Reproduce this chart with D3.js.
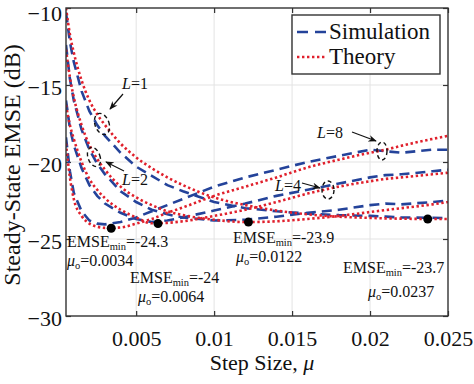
<!DOCTYPE html>
<html lang="en">
<head>
  <meta charset="UTF-8">
  <title>Steady-State EMSE vs Step Size</title>
  <script src="https://cdn.jsdelivr.net/npm/d3@7"></script>
  <style>
    body { margin: 0; background: #fff; }
    text { font-family: "Liberation Serif", "Times New Roman", serif; fill: #111; }
  </style>
</head>
<body>
  <script>
    // step sizes shared by all curves
    const mu = [0.0005, 0.00075, 0.001, 0.0015, 0.002, 0.0025, 0.003, 0.004, 0.005, 0.006, 0.007,
      0.008, 0.01, 0.012, 0.014, 0.016, 0.018, 0.02, 0.021, 0.022, 0.024, 0.025];

    const theoryL1 = [-10, -11.7, -12.9, -14.7, -16.0, -16.9, -17.6, -18.8, -19.7, -20.4, -21.0,
      -21.5, -22.3, -22.8, -23.15, -23.4, -23.55, -23.63, -23.66, -23.68, -23.7, -23.7];
    const simL1 = [-10.3, -12.2, -13.5, -15.4, -16.7, -17.6, -18.3, -19.4, -20.3, -20.9, -21.5,
      -21.9, -22.6, -23.0, -23.2, -23.35, -23.45, -23.5, -23.55, -23.6, -23.62, -23.65];

    const theoryL2 = [-12.7, -14.5, -15.8, -17.6, -18.9, -19.8, -20.5, -21.6, -22.3, -22.8, -23.2,
      -23.45, -23.75, -23.9, -23.85, -23.7, -23.5, -23.25, -23.12, -23.0, -22.75, -22.6];
    const simL2 = [-12.4, -14.6, -16.0, -17.9, -19.2, -20.1, -20.8, -21.9, -22.6, -23.1, -23.4,
      -23.6, -23.8, -23.75, -23.55, -23.3, -23.1, -22.8, -22.7, -22.75, -22.6, -22.5];

    const theoryL4 = [-16.3, -17.6, -18.5, -20.0, -21.1, -21.8, -22.35, -23.1, -23.6, -23.98, -23.95,
      -23.85, -23.5, -23.1, -22.6, -22.05, -21.6, -21.25, -21.1, -21.0, -20.8, -20.7];
    const simL4 = [-16.0, -17.8, -18.9, -20.4, -21.5, -22.2, -22.7, -23.3, -23.7, -23.9, -23.8,
      -23.6, -23.15, -22.7, -22.2, -21.8, -21.4, -21.0, -20.85, -20.8, -20.6, -20.5];

    const theoryL8 = [-18.8, -21.0, -22.4, -23.5, -24.0, -24.2, -24.28, -24.25, -24.0, -23.7, -23.3,
      -22.95, -22.2, -21.6, -21.0, -20.35, -19.85, -19.4, -19.2, -18.95, -18.5, -18.3];
    const simL8 = [-18.4, -20.6, -22.0, -23.2, -23.8, -24.0, -24.05, -23.9, -23.6, -23.2, -22.8,
      -22.4, -21.6, -21.0, -20.5, -20.0, -19.6, -19.2, -19.3, -19.4, -19.2, -19.2];

    // optimum points
    const optMu = [0.0034, 0.0064, 0.0122, 0.0237];
    const optEmse = [-24.3, -24, -23.9, -23.7];
    const optLabels = ['-24.3', '-24', '-23.9', '-23.7'];
    const optMuLabels = ['0.0034', '0.0064', '0.0122', '0.0237'];

    const xTicks = [0.005, 0.01, 0.015, 0.02, 0.025];
    const yTicks = [-10, -15, -20, -25, -30];

    const w = 474;
    const h = 384;
    const mLeft = 66, mRight = 448, mTop = 8, mBottom = 316;

    const xScale = d3.scaleLinear().domain([0.0005, 0.025]).range([mLeft, mRight]);
    const yScale = d3.scaleLinear().domain([-30, -10]).range([mBottom, mTop]);

    const svg = d3.select('body').append('svg')
      .attr('width', w)
      .attr('height', h);

    const defs = svg.append('defs');
    defs.append('clipPath').attr('id', 'plot')
      .append('rect')
      .attr('x', mLeft).attr('y', mTop)
      .attr('width', mRight - mLeft).attr('height', mBottom - mTop);

    const marker = defs.append('marker')
      .attr('id', 'arrow')
      .attr('viewBox', '0 0 10 10')
      .attr('refX', 9).attr('refY', 5)
      .attr('markerWidth', 7).attr('markerHeight', 7)
      .attr('orient', 'auto');
    marker.append('path').attr('d', 'M0,1 L10,5 L0,9 L3,5 Z').attr('fill', '#111');

    // grid
    svg.append('g').selectAll('line')
      .data(xTicks.slice(0, -1))
      .enter().append('line')
      .attr('x1', d => xScale(d)).attr('x2', d => xScale(d))
      .attr('y1', mTop).attr('y2', mBottom)
      .attr('stroke', '#e3e3e3').attr('stroke-width', 1);
    svg.append('g').selectAll('line')
      .data(yTicks.slice(1, -1))
      .enter().append('line')
      .attr('x1', mLeft).attr('x2', mRight)
      .attr('y1', d => yScale(d)).attr('y2', d => yScale(d))
      .attr('stroke', '#e3e3e3').attr('stroke-width', 1);

    // axes with inner ticks
    const xAxis = svg.append('g')
      .attr('transform', `translate(0,${mBottom})`)
      .call(d3.axisBottom(xScale).tickValues(xTicks).tickSize(-5)
        .tickFormat(d3.format('')));
    const xTop = svg.append('g')
      .attr('transform', `translate(0,${mTop})`)
      .call(d3.axisTop(xScale).tickValues(xTicks).tickSize(-5).tickFormat(''));
    const yAxis = svg.append('g')
      .attr('transform', `translate(${mLeft},0)`)
      .call(d3.axisLeft(yScale).tickValues(yTicks).tickSize(-5).tickPadding(4));
    const yRight = svg.append('g')
      .attr('transform', `translate(${mRight},0)`)
      .call(d3.axisRight(yScale).tickValues(yTicks).tickSize(-5).tickFormat(''));

    [xAxis, xTop, yAxis, yRight].forEach(g => {
      g.select('.domain').remove();
      g.selectAll('line').attr('stroke', '#333').attr('stroke-width', 1.2);
      g.selectAll('text')
        .style('font-family', '"Liberation Serif", serif')
        .style('font-size', '22px')
        .attr('fill', '#111');
    });
    xAxis.selectAll('text').attr('dy', null).attr('y', 30);
    // the top label sits a little lower so it stays inside the frame
    yAxis.selectAll('text').attr('dy', d => d === -10 ? '0.56em' : '0.42em');

    // curves
    const line = d3.line()
      .x((d, i) => xScale(mu[i]))
      .y(d => yScale(d));
    const curveG = svg.append('g').attr('clip-path', 'url(#plot)');

    const sims = [simL1, simL2, simL4, simL8];
    const theories = [theoryL1, theoryL2, theoryL4, theoryL8];

    sims.forEach(s => {
      curveG.append('path')
        .datum(s)
        .attr('d', line.curve(d3.curveLinear))
        .attr('fill', 'none')
        .attr('stroke', '#24439a')
        .attr('stroke-width', 2.6)
        .attr('stroke-dasharray', '10,6');
    });
    theories.forEach(t => {
      curveG.append('path')
        .datum(t)
        .attr('d', line.curve(d3.curveMonotoneX))
        .attr('fill', 'none')
        .attr('stroke', '#e0202c')
        .attr('stroke-width', 2.6)
        .attr('stroke-dasharray', '2.4,2.6');
    });

    // box
    svg.append('rect')
      .attr('x', mLeft).attr('y', mTop)
      .attr('width', mRight - mLeft).attr('height', mBottom - mTop)
      .attr('fill', 'none').attr('stroke', '#333').attr('stroke-width', 1.4);

    // optimum dots
    svg.append('g').selectAll('circle')
      .data(optMu)
      .enter().append('circle')
      .attr('cx', d => xScale(d))
      .attr('cy', (d, i) => yScale(optEmse[i]))
      .attr('r', 4.5)
      .attr('fill', '#000');

    // EMSE labels
    const optPos = [[67, 247, 67, 266], [130, 283, 138, 302], [233, 243, 236, 262], [343, 273, 368, 297]];
    optPos.forEach((p, i) => {
      const t1 = svg.append('text').attr('x', p[0]).attr('y', p[1]).style('font-size', '16px');
      t1.append('tspan').text('EMSE');
      t1.append('tspan').text('min').style('font-size', '10.5px').attr('dy', 3);
      t1.append('tspan').text('=' + optLabels[i]).attr('dy', -3);
      const t2 = svg.append('text').attr('x', p[2]).attr('y', p[3]).style('font-size', '16px');
      t2.append('tspan').text('μ').style('font-style', 'italic');
      t2.append('tspan').text('o').style('font-size', '10.5px').attr('dy', 3);
      t2.append('tspan').text('=' + optMuLabels[i]).attr('dy', -3);
    });

    // L annotations
    const notes = [
      { txt: '1', tx: 122, ty: 89, a: [123, 94, 110, 109], e: [102, 124, 7, 11, -20] },
      { txt: '2', tx: 122, ty: 185, a: [124, 171, 106, 162], e: [94, 157, 6, 10, -20] },
      { txt: '4', tx: 275, ty: 191, a: [302, 183, 320, 188], e: [328, 190, 6, 9, 0] },
      { txt: '8', tx: 317, ty: 138, a: [352, 132, 376, 141], e: [382, 151, 5, 9, 0] }
    ];
    notes.forEach(n => {
      const t = svg.append('text').attr('x', n.tx).attr('y', n.ty).style('font-size', '16px');
      t.append('tspan').text('L').style('font-style', 'italic');
      t.append('tspan').text('=' + n.txt);
      svg.append('line')
        .attr('x1', n.a[0]).attr('y1', n.a[1]).attr('x2', n.a[2]).attr('y2', n.a[3])
        .attr('stroke', '#111').attr('stroke-width', 1.2)
        .attr('marker-end', 'url(#arrow)');
      svg.append('ellipse')
        .attr('cx', 0).attr('cy', 0).attr('rx', n.e[2]).attr('ry', n.e[3])
        .attr('transform', `translate(${n.e[0]},${n.e[1]}) rotate(${n.e[4]})`)
        .attr('fill', 'none').attr('stroke', '#111').attr('stroke-width', 1.4)
        .attr('stroke-dasharray', '4,3');
    });

    // legend
    const lg = svg.append('g');
    lg.append('rect')
      .attr('x', 292).attr('y', 15).attr('width', 148).attr('height', 59)
      .attr('fill', '#fff').attr('stroke', '#333').attr('stroke-width', 1.4);
    lg.append('line').attr('x1', 297).attr('x2', 326).attr('y1', 32).attr('y2', 32)
      .attr('stroke', '#24439a').attr('stroke-width', 2.6).attr('stroke-dasharray', '11,7');
    lg.append('line').attr('x1', 297).attr('x2', 326).attr('y1', 57).attr('y2', 57)
      .attr('stroke', '#e0202c').attr('stroke-width', 2.6).attr('stroke-dasharray', '2.4,2.6');
    lg.append('text').attr('x', 329).attr('y', 39).style('font-size', '23px').text('Simulation');
    lg.append('text').attr('x', 329).attr('y', 64).style('font-size', '23px').text('Theory');

    // axis titles
    const xt = svg.append('text')
      .attr('x', (mLeft + mRight) / 2 + 5).attr('y', 370)
      .attr('text-anchor', 'middle')
      .style('font-size', '22px');
    xt.append('tspan').text('Step Size, ');
    xt.append('tspan').text('μ').style('font-style', 'italic');

    svg.append('text')
      .attr('transform', `translate(20,${(mTop + mBottom) / 2 + 3}) rotate(-90)`)
      .attr('text-anchor', 'middle')
      .style('font-size', '24px')
      .text('Steady-State EMSE (dB)');
  </script>
</body>
</html>
